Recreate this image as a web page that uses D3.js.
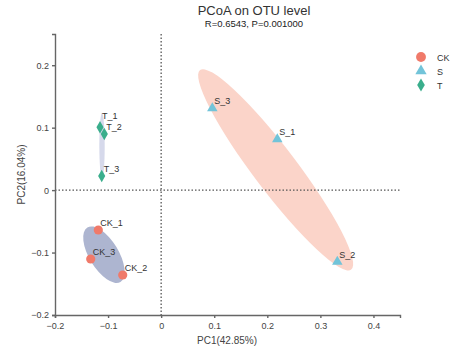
<!DOCTYPE html>
<html><head><meta charset="utf-8">
<script src="https://cdn.jsdelivr.net/npm/d3@7"></script>
<style>body{margin:0;background:#fff}svg{display:block;font-family:"Liberation Sans",Arial,sans-serif}</style>
</head><body><svg id="c" width="474" height="354"></svg>
<script>
const groups = ["CK", "S", "T"];
const sampleNames = ["CK_1","CK_2","CK_3","S_1","S_2","S_3","T_1","T_2","T_3"];
const sampleGroup = ["CK","CK","CK","S","S","S","T","T","T"];
const pc1 = [-0.1184,-0.0724,-0.1327, 0.2188,0.3319,0.0964, -0.1152,-0.1071,-0.1120];
const pc2 = [-0.0639,-0.1360,-0.1103, 0.0814,-0.1147,0.1310, 0.1006,0.0898,0.0226];
const xTicks = [-0.2,-0.1,0,0.1,0.2,0.3,0.4];
const yTicks = [-0.2,-0.1,0,0.1,0.2];

const pointColor = {CK:"#f07a6a", S:"#72c4d9", T:"#3aae8c"};
const ellipseColor = {CK:"#adb5d0", S:"#fbd4c9", T:"#d6d9eb"};
const symbolType = {CK:d3.symbolCircle, S:d3.symbolTriangle, T:d3.symbolDiamond};
const symbolSize = {CK:66, S:48, T:44};

const svg = d3.select("#c");
const x = d3.scaleLinear().domain([-0.2,0.45]).range([55,400]);
const y = d3.scaleLinear().domain([-0.2,0.25]).range([315,34]);

const data = sampleNames.map((n,i)=>({name:n, g:sampleGroup[i], x:pc1[i], y:pc2[i]}));

// ellipses (computed from group covariance in pixel space)
const k = 1.24;
groups.forEach(g=>{
  const pts = data.filter(d=>d.g===g).map(d=>[x(d.x), y(d.y)]);
  const n = pts.length;
  const mx = d3.mean(pts,p=>p[0]), my = d3.mean(pts,p=>p[1]);
  let sxx=0, syy=0, sxy=0;
  pts.forEach(p=>{const dx=p[0]-mx, dy=p[1]-my; sxx+=dx*dx; syy+=dy*dy; sxy+=dx*dy;});
  sxx/=(n-1); syy/=(n-1); sxy/=(n-1);
  const ht=(sxx+syy)/2, disc=Math.sqrt(Math.max(0,ht*ht-(sxx*syy-sxy*sxy)));
  const l1=ht+disc, l2=Math.max(ht-disc,0.5);
  const ang=0.5*Math.atan2(2*sxy, sxx-syy)*180/Math.PI;
  svg.append("ellipse")
    .attr("cx",0).attr("cy",0)
    .attr("rx",k*Math.sqrt(l1)).attr("ry",k*Math.sqrt(l2))
    .attr("transform",`translate(${mx},${my}) rotate(${ang})`)
    .attr("fill",ellipseColor[g]);
});

// zero lines
svg.append("line").attr("x1",x(0)).attr("x2",x(0)).attr("y1",y(0.25)).attr("y2",y(-0.2))
  .attr("stroke","#555").attr("stroke-width",1.3).attr("stroke-dasharray","1.5,2");
svg.append("line").attr("x1",x(-0.2)).attr("x2",x(0.45)).attr("y1",y(0)).attr("y2",y(0))
  .attr("stroke","#555").attr("stroke-width",1.3).attr("stroke-dasharray","1.5,2");

// axes
const fmt = d=> d===0 ? "0" : d3.format(".1f")(d);
const xa = svg.append("g").attr("transform",`translate(0,${y(-0.2)})`)
  .call(d3.axisBottom(x).tickValues(xTicks).tickFormat(fmt).tickSize(3).tickSizeOuter(3));
const ya = svg.append("g").attr("transform",`translate(${x(-0.2)},0)`)
  .call(d3.axisLeft(y).tickValues(yTicks).tickFormat(fmt).tickSize(3).tickSizeOuter(3));
[xa,ya].forEach(a=>{
  a.selectAll("path,line").attr("stroke","#666").attr("stroke-width",1.4);
  a.selectAll("text").attr("fill","#444").style("font-size","9px");
});
xa.selectAll("text").attr("dy","0.9em");

// points
svg.selectAll(".pt").data(data).enter().append("path")
  .attr("transform",d=>`translate(${x(d.x)},${y(d.y)})`)
  .attr("d",d=>d3.symbol().type(symbolType[d.g]).size(symbolSize[d.g])())
  .attr("fill",d=>pointColor[d.g]);

svg.selectAll(".lb").data(data).enter().append("text")
  .attr("x",d=>x(d.x)+2)
  .attr("y",d=>y(d.y)-(d.name==="T_1"?8:4))
  .text(d=>d.name).style("font-size","9px").attr("fill","#333");

// titles
svg.append("text").attr("x",254).attr("y",15).attr("text-anchor","middle")
  .style("font-size","13px").attr("fill","#333").text("PCoA on OTU level");
svg.append("text").attr("x",254).attr("y",27).attr("text-anchor","middle")
  .style("font-size","9.5px").attr("fill","#222").text("R=0.6543, P=0.001000");
svg.append("text").attr("x",227).attr("y",344).attr("text-anchor","middle")
  .style("font-size","10px").attr("fill","#444").text("PC1(42.85%)");
svg.append("text").attr("transform",`translate(25,${(y(0.25)+y(-0.2))/2}) rotate(-90)`)
  .attr("text-anchor","middle").style("font-size","10px").attr("fill","#444").text("PC2(16.04%)");

// legend
const lg = svg.append("g");
groups.forEach((g,i)=>{
  const yy = 57 + i*14;
  lg.append("path").attr("transform",`translate(421,${yy})`)
    .attr("d",d3.symbol().type(symbolType[g]).size(symbolSize[g]*1.15)()).attr("fill",pointColor[g]);
  lg.append("text").attr("x",437).attr("y",yy+3.5).style("font-size","9px").attr("fill","#333").text(g);
});
</script></body></html>
